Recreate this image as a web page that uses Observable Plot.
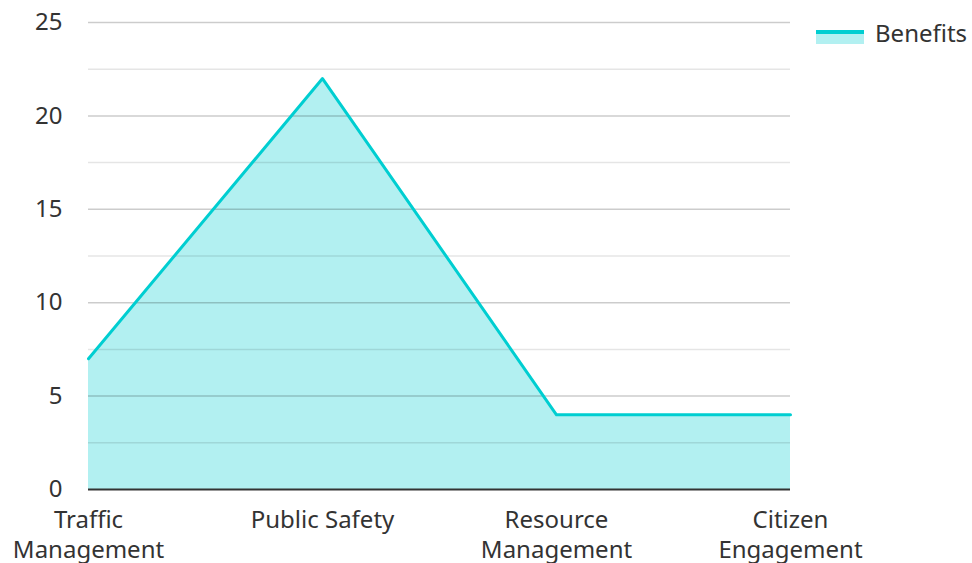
<!DOCTYPE html>
<html>
<head>
<meta charset="utf-8">
<script src="https://cdn.jsdelivr.net/npm/d3@7"></script>
<script src="https://cdn.jsdelivr.net/npm/@observablehq/plot@0.6"></script>
<style>
  html, body { margin: 0; padding: 0; background: #fff; }
  body { width: 972px; height: 563px; position: relative; overflow: hidden; font-family: "Noto Sans", "Open Sans", sans-serif; }
  #chart { position: absolute; left: 0; top: 0; }
  #legend { position: absolute; left: 816px; top: 16px; height: 34px; display: flex; align-items: center; font-size: 24px; line-height: 34px; color: #333; }
  #legend .sw { width: 48px; height: 14px; position: relative; margin-right: 11px; margin-top: 8px; }
  #legend .sw .fill { position: absolute; left: 0; top: 4px; width: 48px; height: 10px; background: rgba(0,206,209,0.3); }
  #legend .sw .ln { position: absolute; left: 0; top: 0px; width: 48px; height: 4px; background: #00CED1; }
</style>
</head>
<body>
<div id="chart"></div>
<div id="legend"><div class="sw"><div class="fill"></div><div class="ln"></div></div><span>Benefits</span></div>
<script>
const categories = ["Traffic Management", "Public Safety", "Resource Management", "Citizen Engagement"];
const tickLabels = ["Traffic\nManagement", "Public Safety", "Resource\nManagement", "Citizen\nEngagement"];
const benefits = [7, 22, 4, 4];
const majorTicks = [5, 10, 15, 20, 25];
const minorTicks = [2.5, 7.5, 12.5, 17.5, 22.5];

const data = categories.map((c, i) => ({ category: c, value: benefits[i] }));
const labelOf = new Map(categories.map((c, i) => [c, tickLabels[i]]));

const chart = Plot.plot({
  width: 972,
  height: 563,
  marginLeft: 88,
  marginRight: 182,
  marginTop: 22,
  marginBottom: 74,
  style: { fontFamily: "'Noto Sans', 'Open Sans', sans-serif", fontSize: "24px", color: "#333", background: "transparent", overflow: "visible" },
  x: { type: "point", domain: categories, padding: 0 },
  y: { domain: [0, 25] },
  marks: [
    Plot.areaY(data, { x: "category", y: "value", fill: "#00CED1", fillOpacity: 0.3 }),
    Plot.ruleY(minorTicks, { stroke: "#000", strokeOpacity: 0.1, strokeWidth: 1.5 }),
    Plot.ruleY(majorTicks, { stroke: "#000", strokeOpacity: 0.2, strokeWidth: 1.5 }),
    Plot.lineY(data, { x: "category", y: "value", stroke: "#00CED1", strokeWidth: 3 }),
    Plot.ruleY([0], { stroke: "#333", strokeWidth: 2 }),
    Plot.axisY({ ticks: [0, 5, 10, 15, 20, 25], tickSize: 0, tickPadding: 26, label: null, fontSize: 24, fill: "#333" }),
    Plot.axisX({ tickSize: 0, tickPadding: 17, label: null, fontSize: 24, fill: "#333", lineHeight: 1.25, tickFormat: d => labelOf.get(d) })
  ]
});
document.getElementById("chart").appendChild(chart);
</script>
</body>
</html>
